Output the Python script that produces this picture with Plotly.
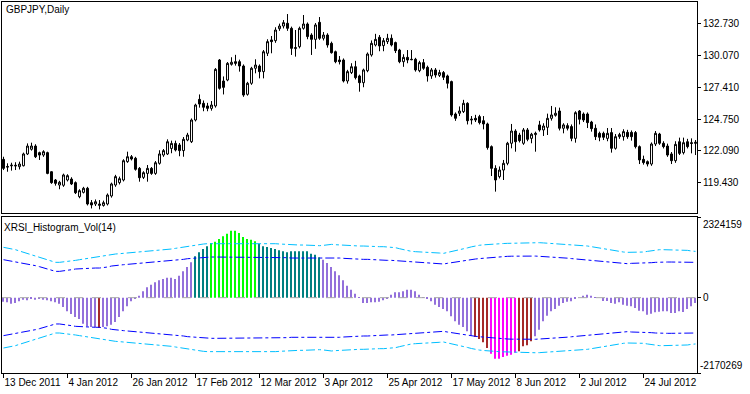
import plotly.graph_objects as go

# ---------------- data ----------------
opens = [121.39, 120.80, 120.85, 120.90, 120.78, 120.86, 121.84, 122.23, 122.50, 121.95,
         121.75, 121.95, 120.36, 119.67, 119.25, 119.23, 119.67, 119.75, 119.45, 118.28,
         118.64, 118.98, 117.78, 117.67, 117.55, 117.55, 117.67, 118.34, 119.25, 119.45,
         119.67, 121.20, 121.61, 121.48, 120.64, 119.89, 120.22, 120.64, 120.22, 121.06,
         121.75, 121.84, 122.30, 122.72, 122.59, 122.12, 123.00, 122.86, 124.67, 126.39,
         126.06, 125.84, 125.64, 125.84, 129.67, 127.92, 128.00, 129.31, 129.53, 129.53,
         129.17, 126.81, 127.73, 128.98, 129.17, 128.70, 130.23, 131.34, 131.28, 132.28,
         132.50, 132.73, 132.31, 130.62, 130.78, 132.31, 132.67, 131.75, 131.39, 132.81,
         131.48, 131.75, 131.06, 130.36, 129.67, 129.67, 127.92, 128.62, 129.11, 128.34,
         127.78, 128.78, 130.09, 130.92, 131.56, 130.87, 131.20, 131.48, 131.12, 130.50,
         129.53, 129.89, 129.73, 129.73, 128.78, 129.45, 129.06, 128.34, 128.84, 128.39,
         128.62, 128.34, 127.87, 125.17, 125.23, 125.37, 126.06, 124.67, 124.81, 124.95,
         124.61, 124.34, 122.45, 120.64, 119.95, 120.50, 121.06, 122.73, 123.75, 123.42,
         122.73, 123.84, 123.14, 123.45, 124.26, 123.84, 124.06, 124.81, 125.06, 125.42,
         123.98, 124.20, 124.12, 123.14, 125.42, 125.17, 125.17, 124.50, 123.98, 123.56,
         123.56, 123.14, 123.62, 122.31, 123.28, 123.28, 123.64, 123.64, 123.62, 122.45,
         121.39, 121.20, 121.00, 122.67, 123.50, 122.73, 122.50, 121.84, 121.28, 122.86,
         121.95, 122.86, 122.78, 122.72]
highs = [121.61, 121.06, 121.11, 121.15, 121.20, 121.95, 122.72, 122.78, 122.65, 122.03,
         122.15, 122.03, 120.40, 119.75, 119.60, 120.20, 120.15, 119.90, 119.55, 118.90,
         119.10, 119.10, 118.00, 118.05, 118.00, 117.95, 118.55, 119.45, 120.10, 119.95,
         121.40, 122.03, 121.75, 121.60, 120.75, 120.40, 120.92, 120.75, 121.25, 122.15,
         122.25, 123.06, 122.95, 122.95, 122.75, 123.25, 123.60, 124.80, 126.03, 126.80,
         126.30, 126.10, 126.25, 129.00, 129.75, 128.30, 129.50, 129.90, 130.10, 129.70,
         129.30, 127.85, 129.10, 129.73, 129.30, 130.50, 131.40, 131.67, 132.40, 132.70,
         133.00, 133.50, 132.45, 132.17, 132.45, 133.42, 132.80, 131.90, 132.75, 133.25,
         132.00, 131.90, 131.20, 130.45, 130.00, 129.80, 128.85, 129.40, 129.60, 128.45,
         128.95, 130.30, 131.30, 131.85, 131.75, 131.50, 131.85, 131.80, 131.20, 130.60,
         130.15, 130.50, 130.50, 129.85, 129.60, 129.75, 129.20, 129.00, 129.00, 128.85,
         128.75, 128.45, 127.95, 125.30, 125.80, 126.35, 126.15, 125.00, 125.10, 125.10,
         125.00, 124.45, 122.55, 120.90, 120.80, 121.34, 122.85, 124.34, 123.90, 123.60,
         124.00, 124.00, 123.60, 123.70, 124.60, 124.40, 125.20, 125.84, 125.73, 125.70,
         124.40, 124.40, 124.30, 125.40, 125.50, 125.30, 125.30, 124.60, 124.30, 123.70,
         123.70, 124.00, 124.00, 123.50, 123.60, 123.90, 123.85, 123.80, 123.75, 122.55,
         121.70, 121.30, 122.80, 123.75, 123.60, 122.90, 122.70, 122.00, 122.90, 123.20,
         123.20, 123.10, 123.14, 123.00]
lows = [120.50, 120.36, 120.45, 120.50, 120.55, 120.80, 121.75, 122.12, 121.50, 121.34,
        121.60, 120.15, 119.35, 119.20, 118.90, 119.10, 119.55, 119.25, 118.50, 118.15,
        118.55, 117.55, 117.30, 117.50, 117.22, 117.45, 117.55, 118.20, 119.10, 119.30,
        119.55, 121.10, 121.30, 120.45, 119.53, 119.75, 119.53, 120.10, 120.10, 120.95,
        121.60, 121.75, 121.90, 122.05, 121.65, 121.61, 122.90, 122.75, 124.55, 125.70,
        125.40, 125.40, 125.45, 125.70, 127.20, 126.80, 127.90, 129.20, 129.20, 128.70,
        126.60, 126.70, 127.60, 128.56, 128.14, 128.14, 130.00, 130.23, 131.10, 132.10,
        132.30, 132.10, 130.09, 129.95, 130.64, 132.20, 131.40, 130.09, 130.60, 131.35,
        131.30, 130.70, 130.20, 129.40, 129.30, 127.80, 127.70, 128.50, 128.05, 127.03,
        127.40, 128.65, 129.95, 130.80, 130.40, 130.40, 131.00, 130.80, 130.25, 129.40,
        129.10, 129.40, 129.65, 128.70, 128.65, 128.85, 127.87, 128.10, 128.20, 128.25,
        128.00, 127.30, 124.95, 124.60, 125.00, 125.25, 124.30, 124.30, 124.50, 124.30,
        123.89, 122.20, 120.00, 118.70, 119.80, 119.67, 120.90, 122.31, 122.03, 122.80,
        122.60, 122.90, 122.73, 122.03, 123.70, 123.34, 123.42, 124.62, 124.95, 123.80,
        123.56, 123.80, 122.90, 122.78, 124.30, 124.50, 124.00, 123.70, 123.00, 122.90,
        123.00, 122.90, 121.95, 122.20, 123.10, 122.95, 123.10, 122.95, 122.30, 121.00,
        120.95, 120.80, 120.85, 122.50, 122.60, 122.30, 121.60, 121.00, 121.10, 121.75,
        121.80, 122.30, 121.89, 121.75]
closes = [120.64, 120.75, 120.90, 120.85, 121.00, 121.84, 122.50, 122.50, 121.61, 121.75,
          122.03, 120.22, 119.45, 119.39, 119.48, 120.09, 120.03, 119.34, 118.61, 118.78,
          118.98, 117.67, 117.59, 117.86, 117.67, 117.78, 118.42, 119.34, 119.95, 119.78,
          121.28, 121.61, 121.42, 120.56, 119.86, 120.28, 120.64, 120.22, 121.11, 121.84,
          122.12, 122.86, 122.72, 122.17, 122.12, 123.06, 123.42, 124.67, 125.92, 126.00,
          125.73, 125.64, 125.92, 128.89, 127.31, 127.39, 129.39, 129.48, 129.39, 129.17,
          126.75, 127.73, 128.98, 129.25, 128.70, 130.36, 131.20, 131.20, 132.17, 132.50,
          132.78, 132.31, 130.64, 130.70, 132.31, 132.67, 131.62, 131.39, 132.59, 131.48,
          131.75, 130.92, 130.28, 129.53, 129.53, 127.92, 128.70, 129.11, 128.20, 127.78,
          128.84, 130.17, 131.06, 131.39, 130.84, 131.28, 131.48, 130.92, 130.45, 129.53,
          129.89, 129.67, 129.70, 128.84, 129.45, 128.98, 128.34, 128.84, 128.42, 128.62,
          128.23, 127.73, 125.09, 124.81, 125.42, 126.06, 124.61, 124.73, 124.67, 124.45,
          124.34, 122.37, 120.64, 119.67, 120.50, 121.06, 122.73, 123.75, 122.86, 122.95,
          123.84, 123.06, 123.48, 123.56, 123.84, 124.17, 124.81, 125.09, 125.23, 123.98,
          124.26, 123.98, 123.14, 125.28, 124.73, 124.67, 124.45, 123.95, 123.28, 123.23,
          123.23, 123.56, 122.31, 123.28, 123.45, 123.70, 123.28, 123.28, 122.45, 121.34,
          121.12, 121.00, 122.67, 123.56, 122.73, 122.45, 121.75, 121.28, 122.64, 121.89,
          122.78, 122.45, 122.72, 122.81]

# XRSI_Histogram_Vol(14) histogram and its two level pairs, in thousands
hist_k = [-115, -134, -173, -154, -106, -58, -77, -38, -58, -38,
          -58, -77, -106, -134, -173, -269, -394, -470, -557, -614,
          -749, -826, -845, -845, -874, -845, -826, -778, -701, -557,
          -394, -250, -106, -38, 58, 182, 298, 374, 442, 499,
          538, 576, 576, 538, 634, 758, 883, 1018, 1190, 1306,
          1402, 1478, 1574, 1613, 1690, 1766, 1843, 1930, 1930, 1862,
          1747, 1690, 1670, 1622, 1555, 1478, 1459, 1430, 1402, 1363,
          1334, 1306, 1334, 1334, 1334, 1334, 1334, 1267, 1238, 1162,
          1094, 998, 883, 758, 643, 499, 346, 230, 115, 19,
          -154, -154, -134, -134, -115, -77, -10, 86, 154, 154,
          182, 230, 230, 182, 86, 19, -19, -106, -202, -269,
          -326, -394, -538, -682, -778, -845, -970, -1095, -1133, -1191,
          -1287, -1450, -1613, -1757, -1757, -1709, -1671, -1642, -1590, -1546,
          -1402, -1373, -1258, -1114, -922, -682, -518, -394, -326, -230,
          -154, -115, -106, -10, 0, 58, 86, 58, 19, 0,
          -96, -96, -154, -173, -134, -202, -230, -250, -298, -374,
          -394, -490, -461, -422, -403, -394, -394, -442, -442, -394,
          -413, -326, -250, -154]
level1_k = [1094, 1075, 1046, 1018, 998, 979, 960, 941, 922, 893,
            854, 816, 778, 758, 758, 768, 787, 806, 826, 835,
            845, 845, 854, 854, 854, 864, 883, 912, 931, 950,
            950, 960, 970, 970, 979, 989, 1008, 1018, 1037, 1046,
            1056, 1066, 1075, 1085, 1094, 1104, 1123, 1133, 1152, 1162,
            1162, 1171, 1171, 1171, 1171, 1171, 1171, 1171, 1171, 1171,
            1171, 1171, 1171, 1171, 1171, 1171, 1171, 1171, 1162, 1162,
            1152, 1152, 1142, 1142, 1142, 1142, 1142, 1142, 1142, 1142,
            1142, 1152, 1162, 1152, 1142, 1133, 1123, 1123, 1114, 1114,
            1104, 1104, 1094, 1094, 1085, 1085, 1075, 1075, 1066, 1056,
            1046, 1037, 1027, 1018, 1008, 998, 989, 979, 979, 979,
            970, 990, 1010, 1030, 1050, 1070, 1085, 1100, 1114, 1126,
            1138, 1150, 1162, 1170, 1177, 1184, 1191, 1195, 1199, 1203,
            1207, 1210, 1205, 1198, 1191, 1186, 1181, 1176, 1170, 1162,
            1150, 1138, 1126, 1114, 1104, 1094, 1085, 1075, 1066, 1056,
            1046, 1037, 1018, 1000, 989, 979, 979, 989, 989, 998,
            998, 1008, 1008, 1018, 1027, 1027, 1027, 1027, 1027, 1027,
            1027, 1027, 1018, 1018]
level2_k = [1450, 1430, 1402, 1382, 1344, 1306, 1267, 1229, 1190, 1152,
            1114, 1075, 1037, 1018, 1018, 1027, 1046, 1056, 1075, 1094,
            1114, 1133, 1152, 1171, 1190, 1210, 1229, 1248, 1258, 1267,
            1277, 1286, 1296, 1296, 1306, 1315, 1325, 1344, 1354, 1363,
            1373, 1392, 1402, 1421, 1440, 1459, 1478, 1507, 1526, 1536,
            1546, 1555, 1555, 1565, 1565, 1574, 1574, 1574, 1574, 1574,
            1574, 1574, 1574, 1574, 1574, 1565, 1565, 1555, 1555, 1546,
            1536, 1536, 1526, 1526, 1517, 1517, 1507, 1507, 1498, 1498,
            1507, 1526, 1536, 1526, 1517, 1507, 1498, 1498, 1498, 1488,
            1488, 1478, 1478, 1478, 1469, 1469, 1459, 1459, 1440, 1411,
            1382, 1354, 1334, 1325, 1315, 1306, 1296, 1286, 1286, 1286,
            1277, 1300, 1330, 1355, 1380, 1402, 1435, 1465, 1498, 1510,
            1522, 1534, 1546, 1551, 1556, 1560, 1565, 1567, 1568, 1580,
            1588, 1594, 1590, 1587, 1584, 1577, 1569, 1561, 1554, 1546,
            1536, 1536, 1526, 1526, 1517, 1507, 1488, 1469, 1450, 1430,
            1411, 1382, 1363, 1344, 1315, 1315, 1306, 1306, 1306, 1306,
            1315, 1334, 1354, 1373, 1382, 1382, 1382, 1382, 1382, 1382,
            1373, 1363, 1344, 1334]

date_labels = ["13 Dec 2011", "4 Jan 2012", "26 Jan 2012", "17 Feb 2012", "12 Mar 2012",
               "3 Apr 2012", "25 Apr 2012", "17 May 2012", "8 Jun 2012", "2 Jul 2012",
               "24 Jul 2012"]
bars_per_label = 16
price_ticks = [119.430, 122.090, 124.750, 127.410, 130.070, 132.730]
osc_max = 2324159
osc_min = -2170269
price_top = 134.503
price_bottom = 116.92

# ---------------- figure ----------------
W, H = 750, 394
n = len(opens)
idx = list(range(n))
hist = [v * 1000 for v in hist_k]
lev1 = [v * 1000 for v in level1_k]
lev2 = [v * 1000 for v in level2_k]

def bar_color(v, l1, l2):
    if v > l2:
        return "#00FF00"
    if v > l1:
        return "#008080"
    if v < -l2:
        return "#FF00FF"
    if v < -l1:
        return "#A52A2A"
    return "#9370DB"

colors = [bar_color(v, a, b) for v, a, b in zip(hist, lev1, lev2)]

fig = go.Figure()
fig.add_trace(go.Candlestick(
    x=idx, open=opens, high=highs, low=lows, close=closes,
    xaxis="x", yaxis="y", whiskerwidth=0,
    increasing=dict(line=dict(color="black", width=1), fillcolor="white"),
    decreasing=dict(line=dict(color="black", width=1), fillcolor="black"),
    hoverinfo="skip", showlegend=False))

fig.add_trace(go.Bar(x=idx, y=hist, width=0.5, offset=-0.375,
                     marker=dict(color=colors, line=dict(width=0)),
                     xaxis="x2", yaxis="y2", hoverinfo="skip", showlegend=False))

dash = "dashdot"
for series, col in [(lev2, "#00BFFF"), (lev1, "#0000FF"),
                    ([-v for v in lev1], "#0000FF"), ([-v for v in lev2], "#00BFFF")]:
    fig.add_trace(go.Scatter(x=idx, y=series, mode="lines",
                             line=dict(color=col, width=1, dash=dash),
                             xaxis="x2", yaxis="y2", hoverinfo="skip", showlegend=False))

font = dict(family="Liberation Sans, Arial, sans-serif", size=10, color="black")
xdom = [2 / W, 697 / W]
xr = [-0.375, n - 0.625]
axis_common = dict(showline=True, mirror=True, linecolor="black", linewidth=1,
                   showgrid=False, zeroline=False, tickcolor="black", tickfont=font,
                   automargin=False)

fig.update_layout(
    width=W, height=H, margin=dict(l=0, r=0, t=0, b=0, autoexpand=False),
    paper_bgcolor="white", plot_bgcolor="white", showlegend=False, font=font,
    xaxis=dict(domain=xdom, range=xr, anchor="y", rangeslider=dict(visible=False),
               showticklabels=False, ticks="", **axis_common),
    yaxis=dict(domain=[1 - 213 / H, 1 - 2 / H], range=[price_bottom, price_top], anchor="x",
               side="right", tickvals=price_ticks, ticktext=[f"{v:.3f}" for v in price_ticks],
               ticks="outside", ticklen=3, **axis_common),
    xaxis2=dict(domain=xdom, range=xr, anchor="y2",
                tickvals=[k * bars_per_label for k in range(len(date_labels))],
                ticktext=date_labels, ticks="outside", ticklen=4, tickangle=0,
                ticklabelposition="outside right", **axis_common),
    yaxis2=dict(domain=[1 - 373 / H, 1 - 217 / H], range=[osc_min, osc_max], anchor="x2",
                side="right", tickvals=[osc_max, 0, osc_min], ticktext=["", "0", ""],
                ticks="outside", ticklen=3, **axis_common),
    shapes=[dict(type="line", xref="x2 domain", yref="y2", x0=0, x1=1, y0=0, y1=0,
                 line=dict(color="#A9A9A9", width=1, dash="dash"), layer="above")],
    annotations=[
        dict(text="GBPJPY,Daily", xref="paper", yref="paper", x=4 / W, y=1 - 10 / H,
             xanchor="left", yanchor="middle", showarrow=False, font=font),
        dict(text="XRSI_Histogram_Vol(14)", xref="paper", yref="paper", x=2 / W, y=1 - 227 / H,
             xanchor="left", yanchor="middle", showarrow=False, font=font),
        dict(text=str(osc_max), xref="paper", yref="y2", x=701 / W, y=osc_max,
             xanchor="left", yanchor="top", showarrow=False, font=font),
        dict(text=str(osc_min), xref="paper", yref="y2", x=698 / W, y=osc_min,
             xanchor="left", yanchor="bottom", showarrow=False, font=font),
    ],
)

fig.write_html("out.html")
